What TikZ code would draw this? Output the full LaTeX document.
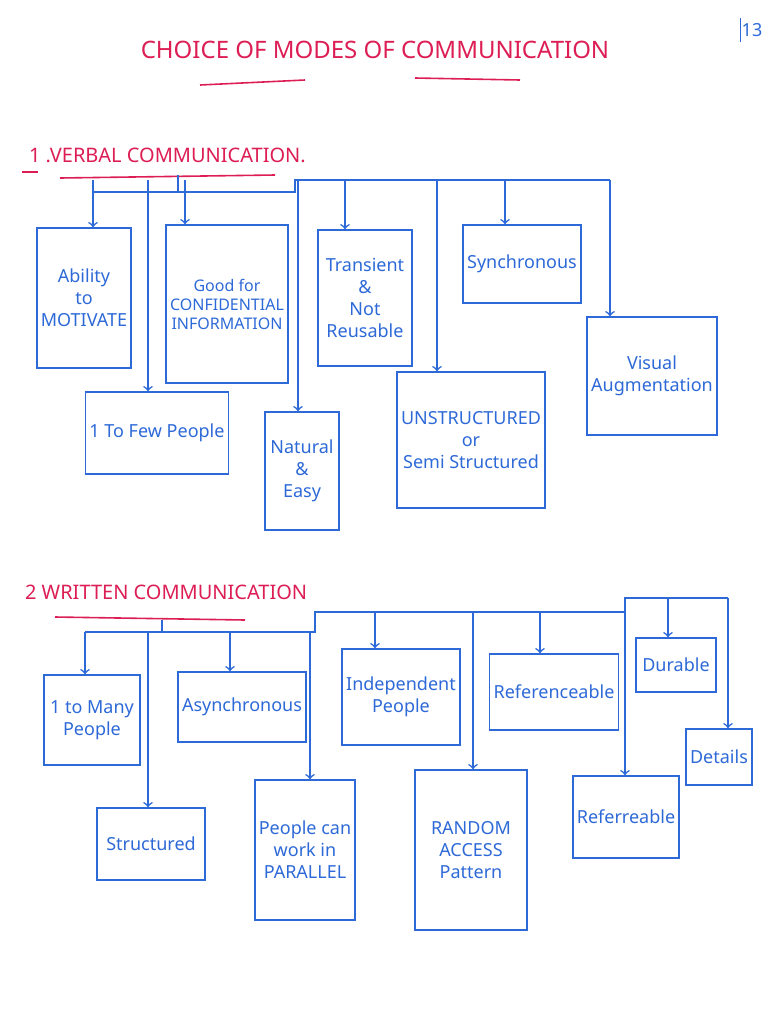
\documentclass[tikz,border=0pt]{standalone}
\usepackage{fontspec}
\setmainfont{Noto Sans}
\definecolor{inkblue}{RGB}{45,105,215}
\definecolor{inkred}{RGB}{220,30,85}
\usetikzlibrary{positioning}
\tikzset{
  box/.style={draw=inkblue, thick, align=center, inner sep=2pt, text=inkblue, font=\small},
  wire/.style={draw=inkblue, thick},
  drop/.style={wire, ->},
  head/.style={text=inkred, font=\normalsize},
}
\begin{document}
\begin{tikzpicture}[x=0.5pt, y=-0.5pt]
  \useasboundingbox (0,0) rectangle (768,1024);

  % title
  \node[head, font=\large] (title) at (375,50) {CHOICE OF MODES OF COMMUNICATION};
  \draw[inkred, thick] (200,85) -- (305,80);
  \draw[inkred, thick] (415,78) -- (520,80);
  \node[text=inkblue, font=\small] (page) at (752,30) {13};
  \draw[inkblue] (740,18) -- (740,42);

  % 1. verbal
  \node[head, anchor=west] (verbal) at (22,155) {1 .VERBAL COMMUNICATION.};
  \draw[inkred, thick] (60,178) -- (275,175);
  \draw[inkred, thick] (22,172) -- (38,172);

  \node[box, minimum width=46pt, minimum height=70pt] (abil) at (84,298) {Ability\\to\\MOTIVATE};
  \node[box, minimum width=69pt, minimum height=41pt] (few) at (157,433) {1 To Few People};
  \node[box, minimum width=60pt, minimum height=79pt, font=\footnotesize] (conf) at (227,304) {Good for\\CONFIDENTIAL\\INFORMATION};
  \node[box, minimum width=37pt, minimum height=59pt] (nat) at (302,471) {Natural\\\&\\Easy};
  \node[box, minimum width=47pt, minimum height=68pt] (trans) at (365,298) {Transient\\\&\\Not\\Reusable};
  \node[box, minimum width=74pt, minimum height=68pt] (unst) at (471,440) {UNSTRUCTURED\\or\\Semi Structured};
  \node[box, minimum width=59pt, minimum height=39pt] (sync) at (522,264) {Synchronous};
  \node[box, minimum width=64pt, minimum height=59pt] (vis) at (652,376) {Visual\\Augmentation};

  \draw[wire] (178,175) -- (178,192);
  \draw[wire] (93,192) -- (295,192) -- (295,180) -- (610,180);
  \foreach \x/\n in {93/abil, 148/few, 185/conf, 298/nat, 345/trans, 437/unst, 505/sync, 610/vis} {
    \coordinate (v\n) at (\x,180);
    \draw[drop] (v\n) -- (v\n |- \n.north);
  }

  % 2. written
  \node[head, anchor=west] (written) at (18,592) {2 WRITTEN COMMUNICATION};
  \draw[inkred, thick] (55,617) -- (245,620);

  \node[box, minimum width=48pt, minimum height=45pt] (many) at (92,720) {1 to Many\\People};
  \node[box, minimum width=54pt, minimum height=36pt] (struc) at (151,844) {Structured};
  \node[box, minimum width=59pt, minimum height=35pt] (async) at (242,707) {Asynchronous};
  \node[box, minimum width=48pt, minimum height=70pt] (par) at (305,850) {People can\\work in\\PARALLEL};
  \node[box, minimum width=54pt, minimum height=48pt] (indep) at (401,697) {Independent\\People};
  \node[box, minimum width=56pt, minimum height=80pt] (rand) at (471,850) {RANDOM\\ACCESS\\Pattern};
  \node[box, minimum width=54pt, minimum height=38pt] (refc) at (554,692) {Referenceable};
  \node[box, minimum width=52pt, minimum height=41pt] (refr) at (626,817) {Referreable};
  \node[box, minimum width=40pt, minimum height=27pt] (dur) at (676,665) {Durable};
  \node[box, minimum width=33pt, minimum height=28pt] (det) at (719,757) {Details};

  \draw[wire] (162,620) -- (162,632);
  \draw[wire] (85,632) -- (315,632) -- (315,612) -- (625,612) -- (625,598) -- (728,598);
  \foreach \x/\n/\y in {85/many/632, 148/struc/632, 230/async/632, 310/par/632, 375/indep/612, 473/rand/612, 540/refc/612, 625/refr/598, 668/dur/598, 728/det/598} {
    \coordinate (w\n) at (\x,\y);
    \draw[drop] (w\n) -- (w\n |- \n.north);
  }
\end{tikzpicture}
\end{document}
